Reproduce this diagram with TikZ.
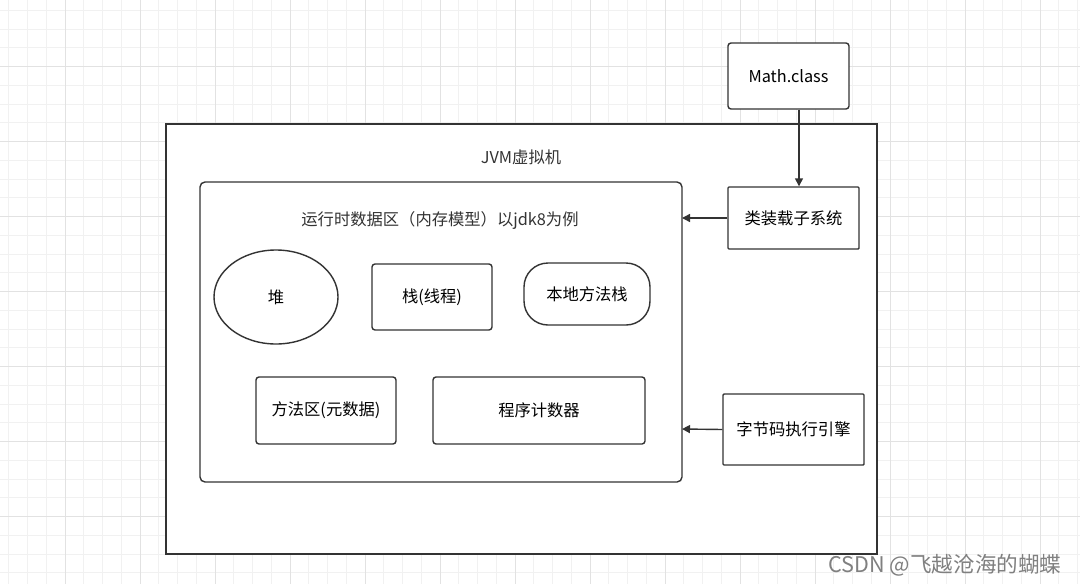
\documentclass[tikz,border=0pt]{standalone}
\usepackage{fontspec}
\setmainfont{Noto Sans CJK SC}
\usetikzlibrary{shapes.geometric,arrows.meta}
\definecolor{ln}{HTML}{333333}
\definecolor{gmin}{HTML}{F1F1F1}
\definecolor{gmaj}{HTML}{E2E2E2}
\begin{document}
\begin{tikzpicture}[x=1pt,y=-1pt,
  box/.style={draw=ln,line width=1.4pt,rounded corners=3pt,fill=white,font=\fontsize{16.3}{19}\selectfont},
  lbl/.style={font=\fontsize{16.3}{19}\selectfont,text=ln},
  arr/.style={draw=ln,line width=1.4pt,-{Triangle[length=8pt,width=8pt]}}]
\useasboundingbox (0,0) rectangle (1080,584);
\fill[white] (0,0) rectangle (1080,584);
\foreach \i in {-3,...,54} {\draw[gmin,line width=0.8pt] (65+\i*18.75,0) -- (65+\i*18.75,584);}
\foreach \i in {-3,...,30} {\draw[gmin,line width=0.8pt] (0,66.5+\i*18.75) -- (1080,66.5+\i*18.75);}
\foreach \i in {-1,...,14} {\draw[gmaj,line width=0.8pt] (65+\i*75,0) -- (65+\i*75,584);}
\foreach \i in {-1,...,7} {\draw[gmaj,line width=0.8pt] (0,66.5+\i*75) -- (1080,66.5+\i*75);}
\draw[ln,line width=1.4pt,fill=white] (166,124) rectangle (877,554);
\node[lbl] (jvm) at (521,157) {JVM虚拟机};
\draw[ln,line width=1.4pt,rounded corners=5pt] (200,182) rectangle (682,482);
\coordinate (rtE1) at (682,218);
\coordinate (rtE2) at (682,429);
\node[lbl] (rt) at (440,220) {运行时数据区（内存模型）以jdk8为例};
\node[box,ellipse,minimum width=124pt,minimum height=94pt] (heap) at (276,297) {堆};
\node[box,minimum width=120pt,minimum height=66pt] (stack) at (432,297) {栈(线程)};
\node[box,rounded corners=24pt,minimum width=126pt,minimum height=62pt] (native) at (587,294) {本地方法栈};
\node[box,minimum width=140pt,minimum height=67pt] (method) at (326,410.5) {方法区(元数据)};
\node[box,minimum width=212pt,minimum height=67pt] (pc) at (539,410.5) {程序计数器};
\node[box,minimum width=121pt,minimum height=66pt] (math) at (788.5,76) {Math.class};
\node[box,rounded corners=1pt,minimum width=131pt,minimum height=62pt] (loader) at (793.5,218) {类装载子系统};
\node[box,rounded corners=1pt,minimum width=141pt,minimum height=71pt] (engine) at (793.5,429.5) {字节码执行引擎};
\draw[arr] (math.south -| 799,0) -- (loader.north -| 799,0);
\draw[arr] (loader.west) -- (rtE1);
\draw[arr] (engine.west) -- (rtE2);
\node[font=\fontsize{21.6}{24}\selectfont,text=black!50] (wm) at (945,565) {CSDN @飞越沧海的蝴蝶};
\end{tikzpicture}
\end{document}
